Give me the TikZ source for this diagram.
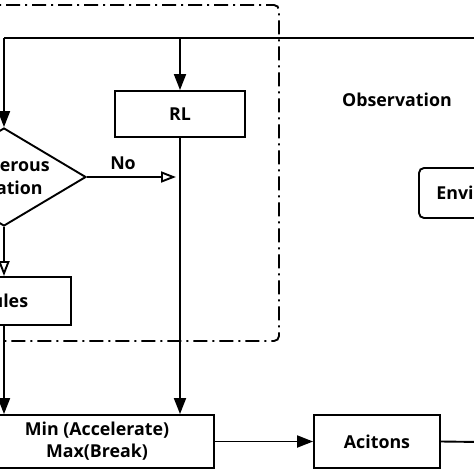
\documentclass[tikz,border=0pt]{standalone}
\usepackage{fontspec}
\setmainfont{Open Sans}
\usetikzlibrary{shapes.geometric,arrows.meta}
\begin{document}
\begin{tikzpicture}[x=1pt,y=-1pt,
  line width=1.9pt,
  every node/.style={font=\fontsize{17.8}{22}\selectfont\bfseries},
  box/.style={draw,rectangle,inner sep=0pt},
  dec/.style={draw,diamond,inner sep=0pt,minimum width=164pt,minimum height=98pt},
  fa/.style={-{Triangle[length=16pt,width=12pt]}},
  oa/.style={-{Triangle[open,length=15pt,width=11pt,fill=white]}},
  dd/.style={dash pattern=on 14pt off 5pt on 2pt off 5pt,rounded corners=5pt}]
\useasboundingbox (0,0) rectangle (474,474);
\clip (0,0) rectangle (474,474);
% nodes
\node[dec] (dan) at (4,177) {};
\node[align=center] (dantext) at ([xshift=-2pt]dan.center) {Dangerous\\[1pt]Situation};
\node[box,minimum width=130pt,minimum height=46pt] (rl) at (180,114) {RL};
\node[box,minimum width=134pt,minimum height=48pt] (rules) at (4,301) {Rules};
\node[box,minimum width=234pt,minimum height=53pt,align=center] (min) at (97,441.5) {Min (Accelerate)\\[0pt]Max(Break)};
\node[box,minimum width=126pt,minimum height=53pt] (act) at (377,441.5) {Acitons};
\node[draw,rounded corners=5pt,minimum width=150pt,minimum height=50pt,inner sep=0pt] (env) at (494,193) {Environment};
\node (obs) at (397,100) {Observation};
\node (no) at (123,163) {No};
% coordinates
\coordinate (obsR) at (480,38);
\coordinate (jl) at (4,38);
\coordinate (jr) at (180,38);
\coordinate (noEnd) at (176,177);
\coordinate (outR) at (480,442);
% dash-dot region
\draw[dd] (-20,5) -- (279,5) -- (279,341) -- (-20,341);
% connectors
\draw (obsR) -- (jl);
\draw[fa] (jl) -- (dan.north);
\draw[fa] (jr) -- (rl.north);
\draw[oa] (dan.east) -- (noEnd);
\draw[oa] (dan.south) -- (rules.north);
\draw[fa] (rules.south) -- (rules.south |- min.north);
\draw[fa] (rl.south) -- (rl.south |- min.north);
\draw[fa] (min.east) -- (act.west);
\draw (act.east) -- (outR);
\end{tikzpicture}
\end{document}
